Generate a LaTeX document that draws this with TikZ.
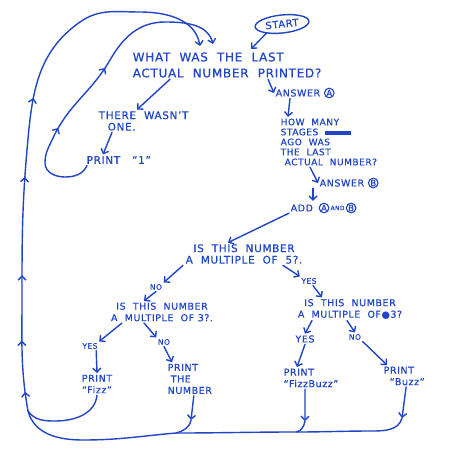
\documentclass[tikz,border=0pt]{standalone}
\usepackage{fontspec}
\setmainfont[LetterSpace=6, FakeBold=0.6]{DejaVu Sans}
\usepackage{tikz}
\usetikzlibrary{shapes.geometric, arrows.meta, positioning, calc, decorations.markings}
\definecolor{penblue}{RGB}{32, 70, 198}

\begin{document}
\begin{tikzpicture}[x=1pt, y=-1pt, color=penblue, line width=1.4pt,
    >={Straight Barb[length=4pt,width=8pt]},
    arr/.style={->, line cap=round},
    big/.style={inner sep=1pt, font=\fontsize{12}{16}\selectfont, align=left},
    txt/.style={inner sep=1pt, font=\fontsize{10.5}{11.5}\selectfont, align=left},
    small/.style={inner sep=1pt, font=\fontsize{9.5}{11.5}\selectfont, align=left},
    tiny/.style={inner sep=1pt, font=\fontsize{7.5}{8}\selectfont, align=left},
    letter/.style={circle, draw, line width=1.1pt, inner sep=0.4pt, font=\fontsize{8.5}{8.5}\selectfont}
]
\useasboundingbox[fill=white] (0,0) rectangle (452,452);

% top of the chart
\node[ellipse, draw, rotate=6, inner sep=1pt, minimum width=54pt, minimum height=18pt, font=\fontsize{10}{10}\selectfont] (start) at (282,24) {START};
\node[big, anchor=west] (question) at (131,65) {WHAT\ \ WAS\ \ THE\ \ LAST\\ACTUAL\ \ NUMBER\ \ PRINTED?};

% left hand side: nothing printed yet
\node[txt, anchor=west] (none) at (97,121) {THERE\ \ WASN'T\\\hspace*{9pt}ONE.};
\node[txt, anchor=west] (printone) at (85,160) {PRINT\ \ \ “1”};

% right hand side: work out the number
\node[small, anchor=west] (ansA) at (274,93) {ANSWER};
\node[letter, right=2pt of ansA] (cA) {A};
\node[small, anchor=west, font=\fontsize{9}{10}\selectfont] (stages) at (279,142) {HOW\ \ MANY\\STAGES\ \ \rule[0.5pt]{26pt}{4pt}\\AGO\ \ WAS\\THE\ \ LAST\\\hspace*{4pt}ACTUAL\ \ NUMBER?};
\node[small, anchor=west] (ansB) at (318,183) {ANSWER};
\node[letter, right=2pt of ansB] (cB) {B};
\node[small, anchor=west] (add) at (289,208) {ADD};
\node[letter, right=4pt of add] (addA) {A};
\node[inner sep=0.5pt, right=0pt of addA, font=\fontsize{6}{6}\selectfont] (and) {AND};
\node[letter, right=0pt of and] (addB) {B};

% the fizz / buzz tests
\node[txt, align=center] (five) at (244,254) {IS\ \ THIS\ \ NUMBER\\A\ \ MULTIPLE\ \ OF\ \ 5?.};
\node[tiny] (noFive) at (156,287) {NO};
\node[tiny] (yesFive) at (309,281) {YES};
\node[small, align=center] (threeL) at (162,312) {IS\ \ THIS\ \ NUMBER\\A\ \ MULTIPLE\ \ OF\ 3?.};
\node[small, align=center] (threeR) at (350,309) {IS\ \ THIS\ \ NUMBER\\A\ \ MULTIPLE\ \ OF●3?};
\node[tiny] (yesL) at (90,346) {YES};
\node[tiny] (noL) at (164,342) {NO};
\node[small] (yesR) at (305,339) {YES};
\node[tiny] (noR) at (355,337) {NO};

% what gets printed
\node[small, align=center] (fizz) at (97,384) {PRINT\\“Fizz”};
\node[small, anchor=west] (number) at (166,379) {PRINT\\\hspace*{3pt}THE\\NUMBER};
\node[small, anchor=west] (fizzbuzz) at (282,378) {PRINT\\“FizzBuzz”};
\node[small, anchor=west] (buzz) at (382,376) {PRINT\\\hspace*{6pt}“Buzz”};

% arrows down the chart
\draw[arr] (start.205) -- ([xshift=-72pt,yshift=2pt]question.north east);
\draw[arr] ([xshift=-55pt]question.south east) -- (ansA.west);
\draw[arr] ([xshift=-57pt]question.south) -- ([xshift=40pt]none.north west);
\draw[arr] ([xshift=15pt]none.south west) -- ([xshift=18pt]printone.north west);
\draw[arr] ([xshift=16pt]ansA.south west) -- ([xshift=9pt]stages.north west);
\draw[arr] ([xshift=31pt]stages.south west) -- (ansB.west);
\draw[arr] ([xshift=-5pt]ansB.south west) -- ([xshift=-5pt,yshift=2pt]ansB.south west |- add.north);
\draw[arr] (add.south west) -- ([xshift=-16pt]five.north);
\draw[arr] ([xshift=-61pt]five.south) -- (noFive.north east);
\draw[arr] ([xshift=39pt]five.south) -- (yesFive.north west);
\draw[arr] (noFive.south) -- ([xshift=-18pt]threeL.north);
\draw[arr] ([xshift=4pt]yesFive.south) -- ([xshift=-28pt]threeR.north);
\draw[arr] ([xshift=-40pt]threeL.south) -- (yesL.north east);
\draw[arr] ([xshift=-18pt]threeL.south) -- (noL.north west);
\draw[arr] ([xshift=-38pt]threeR.south) -- (yesR.north);
\draw[arr] ([xshift=-3pt]threeR.south) -- (noR.north);
\draw[arr] ([xshift=-3pt]yesL.south east) -- (fizz.north);
\draw[arr] (noL.south) -- ([xshift=6pt]number.north west);
\draw[arr] (yesR.south) -- ([xshift=15pt]fizzbuzz.north west);
\draw[arr] (noR.south east) -- ([xshift=5pt]buzz.north west);

% back round to the top
\coordinate (outerEnd) at (200,46);
\coordinate (innerEnd) at (213,44);
\coordinate (jBuzz) at (402,418);
\coordinate (jFizzBuzz) at (296,432);
\coordinate (jNumber) at (176,433);
\coordinate (jFizz) at (28,411);
\coordinate (tipFB) at (305,421);
\coordinate (tipNum) at (191,420);

\draw[arr] ([xshift=2pt]buzz.south) -- (jBuzz);
\draw[arr] ([xshift=-6pt]fizzbuzz.south) -- (tipFB);
\draw[arr] ([xshift=4pt]number.south) -- (tipNum);
\draw (tipFB) to[out=-100,in=10] (jFizzBuzz);
\draw (tipNum) to[out=-100,in=15] (jNumber);
\draw (fizz.south) to[out=-95,in=0] (55,421) to[out=180,in=-55] (jFizz);

\draw[arr, postaction={decorate}, decoration={markings,
      mark=at position 0.44 with {\arrow{>}},
      mark=at position 0.495 with {\arrow{>}},
      mark=at position 0.565 with {\arrow{>}},
      mark=at position 0.67 with {\arrow{>}},
      mark=at position 0.755 with {\arrow{>}}}]
  (jBuzz) to[out=255,in=0] (372,431) to[out=180,in=0] (jFizzBuzz)
  to[out=180,in=0] (jNumber) to[out=185,in=0] (83,440)
  to[out=180,in=-75] (jFizz) to[out=100,in=-90] (22,300)
  to[out=90,in=-95] (27,150) to[out=85,in=215] (80,22)
  to[out=35,in=180] (140,12) to[out=0,in=100] (outerEnd);

\draw[arr, postaction={decorate}, decoration={markings,
      mark=at position 0.3 with {\arrow{>}},
      mark=at position 0.55 with {\arrow{>}}}]
  ([xshift=2pt]printone.south west) to[out=-115,in=0] (65,177)
  to[out=180,in=-90] (45,163) to[out=90,in=-115] (53,138)
  to[out=65,in=-120] (110,60) to[out=60,in=180] (165,22)
  to[out=0,in=105] (innerEnd);
\end{tikzpicture}
\end{document}
